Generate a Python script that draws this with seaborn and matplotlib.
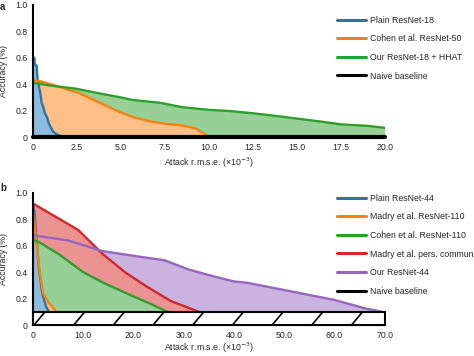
import numpy as np
import pandas as pd
import seaborn as sns
import matplotlib.pyplot as plt

# panel a : attack r.m.s.e. (x1e-3) vs accuracy
a_names = ["Plain ResNet-18", "Cohen et al. ResNet-50", "Our ResNet-18 + HHAT"]
a_plain_x = [0, 0.08, 0.1, 0.21, 0.25, 0.34, 0.42, 0.49, 0.58, 0.68, 0.8, 0.91, 1.03, 1.15, 1.35, 1.53, 1.8, 2.5]
a_plain_y = [0.60, 0.60, 0.55, 0.54, 0.45, 0.38, 0.33, 0.26, 0.23, 0.18, 0.15, 0.10, 0.07, 0.04, 0.02, 0.01, 0.003, 0.0]
a_cohen_x = [0, 0.5, 1.0, 1.5, 2.0, 2.5, 3.0, 3.8, 4.75, 5.7, 6.65, 7.6, 8.5, 9.3, 9.75, 10.05]
a_cohen_y = [0.43, 0.42, 0.40, 0.38, 0.36, 0.34, 0.31, 0.26, 0.20, 0.15, 0.12, 0.10, 0.088, 0.063, 0.025, 0.0]
a_ours_x = [0, 1, 2.5, 3.8, 5.0, 5.7, 7.2, 8.5, 10.0, 11.2, 12.5, 13.5, 15.0, 16.5, 17.5, 19, 20]
a_ours_y = [0.41, 0.39, 0.365, 0.33, 0.30, 0.28, 0.26, 0.226, 0.206, 0.197, 0.18, 0.165, 0.14, 0.115, 0.096, 0.085, 0.07]
a_xticks = [0, 2.5, 5.0, 7.5, 10.0, 12.5, 15.0, 17.5, 20.0]
a_xlabels = ["0", "2.5", "5.0", "7.5", "10.0", "12.5", "15.0", "17.5", "20.0"]

# panel b
b_names = ["Plain ResNet-44", "Madry et al. ResNet-110", "Cohen et al. ResNet-110",
           "Madry et al. pers. commun", "Our ResNet-44"]
b_plain_x = [0, 0.3, 0.6, 1.2, 1.85, 2.6, 3.2]
b_plain_y = [0.92, 0.85, 0.70, 0.42, 0.24, 0.14, 0.10]
b_madry_x = [0, 0.8, 1.4, 2.0, 3.1, 4.0, 4.7]
b_madry_y = [0.86, 0.59, 0.39, 0.24, 0.17, 0.13, 0.10]
b_cohen_x = [0, 2, 5, 7.5, 10, 14, 18.6, 23.4, 26.8]
b_cohen_y = [0.65, 0.61, 0.54, 0.47, 0.40, 0.32, 0.24, 0.16, 0.10]
b_pers_x = [0, 9, 13.8, 18.3, 22.7, 27.5, 30.3, 33]
b_pers_y = [0.92, 0.72, 0.54, 0.40, 0.29, 0.18, 0.14, 0.10]
b_ours_x = [0, 7, 13.8, 20.7, 26.2, 31, 35.8, 40, 42.6, 50, 60, 66, 69.5]
b_ours_y = [0.68, 0.64, 0.56, 0.52, 0.49, 0.42, 0.37, 0.33, 0.32, 0.265, 0.19, 0.127, 0.10]
b_baseline = 0.1
b_xticks = [0, 10, 20, 30, 40, 50, 60, 70]
b_xlabels = ["0", "10.0", "20.0", "30.0", "40.0", "50.0", "60.0", "70.0"]

yticks = [0, 0.2, 0.4, 0.6, 0.8, 1.0]
ylabels = ["0", "0.2", "0.4", "0.6", "0.8", "1.0"]

sns.set_style("white")
plt.rcParams['font.family'] = ['Liberation Sans', 'DejaVu Sans']
pal = sns.color_palette("tab10")
FS = 6.3

fig = plt.figure(figsize=(4.74, 3.56), dpi=100)
ax_a = fig.add_axes([0.0696, 0.615, 0.742, 0.371])
ax_b = fig.add_axes([0.0696, 0.087, 0.742, 0.371])


def light(c):
    # colour at half strength over white, drawn opaque so fills stack
    return tuple(0.5 * v + 0.5 for v in c)


def draw_fill(ax, xs, ys, color, base=0.0):
    ax.fill_between(xs, ys, base, color=light(color), lw=0)


def draw_line(ax, xs, ys, color, label):
    df = pd.DataFrame({"x": xs, "y": ys})
    sns.lineplot(data=df, x="x", y="y", ax=ax, color=color, lw=1.7,
                 estimator=None, sort=False, label=label)


def style_axes(ax, xmax, xticks, xlabels, lpad):
    ax.set_xlim(0, xmax)
    ax.set_ylim(0, 1.0)
    ax.set_xticks(xticks)
    ax.set_xticklabels(xlabels)
    ax.set_yticks(yticks)
    ax.set_yticklabels(ylabels)
    ax.tick_params(labelsize=FS, length=0, pad=4)
    for s in ["top", "right"]:
        ax.spines[s].set_visible(False)
    for s in ["left", "bottom"]:
        ax.spines[s].set_linewidth(1.5)
        ax.spines[s].set_color("black")
    ax.set_xlabel("Attack r.m.s.e. (\u00d710$^{-3}$)", fontsize=FS, labelpad=lpad)
    ax.set_ylabel("Accuracy (%)", fontsize=FS)
    ax.yaxis.set_label_coords(-0.071, 0.5)


def add_legend(ax, top):
    leg = ax.legend(loc="upper left", bbox_to_anchor=(0.711, top), bbox_transform=fig.transFigure,
                    frameon=False, fontsize=FS, handlelength=3.3, handletextpad=0.45,
                    labelspacing=1.1, borderpad=0, borderaxespad=0)
    for h in leg.get_lines():
        h.set_linewidth(2.2)


# ---- panel a (fills stacked largest first)
draw_fill(ax_a, a_ours_x, a_ours_y, pal[2])
draw_fill(ax_a, a_cohen_x, a_cohen_y, pal[1])
draw_fill(ax_a, a_plain_x, a_plain_y, pal[0])
draw_line(ax_a, a_plain_x, a_plain_y, pal[0], a_names[0])
draw_line(ax_a, a_cohen_x, a_cohen_y, pal[1], a_names[1])
draw_line(ax_a, a_ours_x, a_ours_y, pal[2], a_names[2])
ax_a.plot([0, 20], [0, 0], color="black", lw=3, label="Naive baseline", clip_on=False)
style_axes(ax_a, 20, a_xticks, a_xlabels, 3)
add_legend(ax_a, 0.956)

# ---- panel b
draw_fill(ax_b, b_ours_x, b_ours_y, pal[4], b_baseline)
draw_fill(ax_b, b_pers_x, b_pers_y, pal[3], b_baseline)
draw_fill(ax_b, b_cohen_x, b_cohen_y, pal[2], b_baseline)
draw_fill(ax_b, b_madry_x, b_madry_y, pal[1], b_baseline)
draw_fill(ax_b, b_plain_x, b_plain_y, pal[0], b_baseline)
draw_line(ax_b, b_plain_x, b_plain_y, pal[0], b_names[0])
draw_line(ax_b, b_madry_x, b_madry_y, pal[1], b_names[1])
draw_line(ax_b, b_cohen_x, b_cohen_y, pal[2], b_names[2])
draw_line(ax_b, b_pers_x, b_pers_y, pal[3], b_names[3])
draw_line(ax_b, b_ours_x, b_ours_y, pal[4], b_names[4])
# naive baseline box with sparse hatch strokes
ax_b.add_patch(plt.Rectangle((0, 0), 70, b_baseline, facecolor="white",
                             edgecolor="black", lw=1.5, clip_on=False, zorder=3))
for x0 in np.arange(0.2, 70, 7.9):
    ax_b.plot([x0, x0 + 2.2], [0, b_baseline], color="black", lw=1.2, zorder=4)
ax_b.plot([], [], color="black", lw=3, label="Naive baseline")
style_axes(ax_b, 70, b_xticks, b_xlabels, 1)
add_legend(ax_b, 0.456)

fig.text(0.0, 0.995, "a", fontsize=7, fontweight="bold", va="top")
fig.text(0.0, 0.487, "b", fontsize=7, fontweight="bold", va="top")

fig.savefig("out.png", dpi=100)
